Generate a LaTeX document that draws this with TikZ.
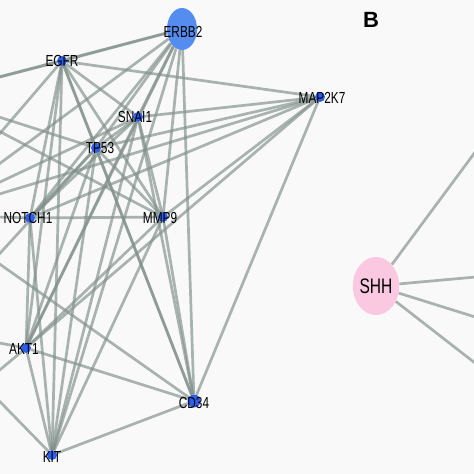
\documentclass[tikz,border=0pt]{standalone}
\usepackage{fontspec}
\setmainfont{Liberation Sans}
\usepackage{tikz}
\usetikzlibrary{shapes.geometric, backgrounds}
\definecolor{genblue}{RGB}{45, 95, 235}
\definecolor{hubblue}{RGB}{85, 140, 240}
\definecolor{shhpink}{RGB}{250, 200, 225}
\definecolor{linkgray}{RGB}{130, 145, 140}
\definecolor{paper}{RGB}{249, 249, 249}
\tikzset{
  gene/.style={
    circle,
    fill=genblue,
    minimum size=10pt,
    inner sep=0pt
  },
  hub/.style={
    ellipse,
    fill=hubblue,
    minimum width=30pt,
    minimum height=42pt,
    inner sep=0pt
  },
  genelabel/.style={
    inner sep=0pt,
    font=\fontsize{16}{16}\selectfont,
    text=black
  },
  link/.style={
    draw=linkgray,
    line width=2.7pt,
    opacity=0.68
  }
}
\newcommand{\narrow}[1]{\scalebox{0.74}[1]{#1}}

\begin{document}
\begin{tikzpicture}[x=1pt, y=-1pt]
  \useasboundingbox (0,0) rectangle (474,474);

  % network A
  \node[hub]  (erbb)  at (182, 29)  {};
  \node[gene] (egfr)  at (62, 61)   {};
  \node[gene] (snai)  at (138, 117) {};
  \node[gene] (tp)    at (96, 148)  {};
  \node[gene] (notch) at (30, 218)  {};
  \node[gene] (mmp)   at (163, 217) {};
  \node[gene] (mapk)  at (320, 97)  {};
  \node[gene] (akt)   at (26, 348)  {};
  \node[gene, minimum size=13pt] (cd) at (194, 401) {};
  \node[gene] (kit)   at (52, 455)  {};
  % genes outside the frame
  \coordinate (offa) at (-70, 95);
  \coordinate (offb) at (-70, 215);
  \coordinate (offc) at (-70, 330);
  \coordinate (offd) at (-60, 420);

  \node[genelabel] (erbblbl)  at (183, 32)  {\narrow{ERBB2}};
  \node[genelabel] (egfrlbl)  at (62, 61)   {\narrow{EGFR}};
  \node[genelabel] (snailbl)  at (135, 117) {\narrow{SNAI1}};
  \node[genelabel] (tplbl)    at (100, 148) {\narrow{TP53}};
  \node[genelabel] (notchlbl) at (28, 218)  {\narrow{NOTCH1}};
  \node[genelabel] (mmplbl)   at (160, 218) {\narrow{MMP9}};
  \node[genelabel] (mapklbl)  at (322, 98)  {\narrow{MAP2K7}};
  \node[genelabel] (aktlbl)   at (24, 349)  {\narrow{AKT1}};
  \node[genelabel] (cdlbl)    at (194, 403) {\narrow{CD34}};
  \node[genelabel] (kitlbl)   at (52, 457)  {\narrow{KIT}};

  % network B
  \node[font=\fontsize{22}{22}\selectfont\bfseries] (panelb) at (371, 20) {B};
  \node[ellipse, fill=shhpink, minimum width=42pt, minimum height=58pt,
        inner sep=0pt, font=\fontsize{21}{21}\selectfont] (shh) at (376, 286) {\narrow{SHH}};
  \coordinate (shhup) at (530, 78);
  \coordinate (shhr1) at (520, 273);
  \coordinate (shhr2) at (520, 331);
  \coordinate (shhr3) at (520, 398);

  \begin{scope}[on background layer]
    \fill[paper] (0,0) rectangle (474,474);
    \clip (0,0) rectangle (474,474);
    \path[every edge/.style={link}]
      (erbb) edge (egfr)  (erbb) edge (snai)  (erbb) edge (tp)
      (erbb) edge (notch) (erbb) edge (mmp)   (erbb) edge (akt)
      (erbb) edge (kit)   (erbb) edge (cd)    (erbb) edge (offa)
      (erbb) edge (offb)
      (egfr) edge (snai)  (egfr) edge (tp)    (egfr) edge (notch)
      (egfr) edge (mmp)   (egfr) edge (akt)   (egfr) edge (kit)
      (egfr) edge (cd)    (egfr) edge (mapk)  (egfr) edge (offa)
      (egfr) edge (offb)
      (snai) edge (tp)    (snai) edge (notch) (snai) edge (mmp)
      (snai) edge (akt)   (snai) edge (kit)   (snai) edge (cd)
      (snai) edge (mapk)  (snai) edge (offb)
      (tp) edge (notch)   (tp) edge (mmp)     (tp) edge (akt)
      (tp) edge (kit)     (tp) edge (cd)      (tp) edge (mapk)
      (tp) edge (offa)    (tp) edge (offc)
      (notch) edge (mmp)  (notch) edge (akt)  (notch) edge (kit)
      (notch) edge (mapk) (notch) edge (offb)
      (mmp) edge (akt)    (mmp) edge (kit)    (mmp) edge (cd)
      (mmp) edge (mapk)   (mmp) edge (offa)
      (mapk) edge (akt)   (mapk) edge (cd)    (mapk) edge (offb)
      (akt) edge (cd)     (akt) edge (kit)    (akt) edge (offc)
      (akt) edge (offd)
      (kit) edge (cd)     (kit) edge (offc)
      (cd) edge (offb);
    \path[every edge/.style={link}]
      (shh) edge (shhup) (shh) edge (shhr1)
      (shh) edge (shhr2) (shh) edge (shhr3);
  \end{scope}
\end{tikzpicture}
\end{document}
